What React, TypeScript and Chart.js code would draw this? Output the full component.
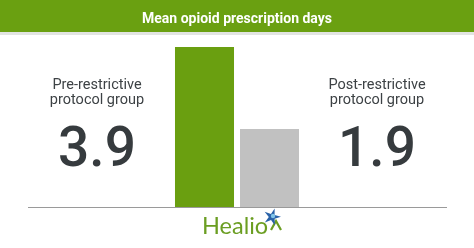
import React, { useEffect, useRef } from "react";
import { Chart, registerables } from "chart.js";

Chart.register(...registerables);

const title = "Mean opioid prescription days";
const categories = ["Pre-restrictive protocol group", "Post-restrictive protocol group"];
const labelLines = [["Pre-restrictive", "protocol group"], ["Post-restrictive", "protocol group"]];
const values = [3.9, 1.9];
const valueLabels = ["3.9", "1.9"];
const barColors = ["#6a9f10", "#c1c1c1"];

const W = 474;
const H = 248;

const decorPlugin = {
  id: "decor",
  beforeDraw(chart: any) {
    const ctx = chart.ctx;
    ctx.save();
    ctx.fillStyle = "#ffffff";
    ctx.fillRect(0, 0, W, H);
    ctx.fillStyle = "#e2e4e2";
    ctx.fillRect(0, 32, W, 3);
    ctx.fillStyle = "#6aa011";
    ctx.fillRect(0, 0, W, 32);
    ctx.fillStyle = "#ffffff";
    ctx.font = "bold 15px Roboto";
    ctx.textBaseline = "alphabetic";
    const tw = ctx.measureText(title).width;
    const sx = 190 / tw;
    ctx.save();
    ctx.translate(237, 23);
    ctx.scale(sx, 1);
    ctx.textAlign = "center";
    ctx.fillText(title, 0, 0);
    ctx.restore();
    ctx.restore();
  },
  afterDraw(chart: any) {
    const ctx = chart.ctx;
    ctx.save();
    const centers = [97, 377];
    ctx.textAlign = "center";
    ctx.textBaseline = "alphabetic";
    for (let i = 0; i < categories.length; i++) {
      ctx.fillStyle = "#3d4245";
      ctx.font = "14.5px Roboto";
      ctx.fillText(labelLines[i][0], centers[i], 88.5);
      ctx.fillText(labelLines[i][1], centers[i], 104);
      ctx.fillStyle = "#363b3e";
      ctx.font = "500 55px Roboto";
      ctx.fillText(valueLabels[i], centers[i], 166);
    }
    // Healio logo
    ctx.textAlign = "left";
    ctx.fillStyle = "#6b9e22";
    ctx.font = "23.5px Lato";
    ctx.fillText("Healio", 202, 233.5);
    ctx.strokeStyle = "#6b9e22";
    ctx.lineWidth = 2.2;
    ctx.beginPath();
    ctx.moveTo(271, 230);
    ctx.lineTo(276, 221);
    ctx.lineTo(281, 230);
    ctx.stroke();
    const cx = 272, cy = 217;
    const pts = 5;
    ctx.fillStyle = "#2a62a8";
    ctx.beginPath();
    for (let k = 0; k < pts * 2; k++) {
      const r = k % 2 === 0 ? 9 : 3.2;
      const a = -Math.PI / 2 + (k * Math.PI) / pts + 0.3;
      const x = cx + r * Math.cos(a);
      const y = cy + r * Math.sin(a);
      if (k === 0) ctx.moveTo(x, y);
      else ctx.lineTo(x, y);
    }
    ctx.closePath();
    ctx.fill();
    ctx.fillStyle = "#7fc3e8";
    ctx.beginPath();
    ctx.arc(cx + 1, cy - 1, 2.2, 0, Math.PI * 2);
    ctx.fill();
    ctx.restore();
  },
};

export default function App() {
  const ref = useRef<HTMLCanvasElement>(null);
  useEffect(() => {
    document.body.style.margin = "0";
    const chart = new Chart(ref.current as HTMLCanvasElement, {
      type: "bar",
      data: {
        labels: [""],
        datasets: categories.map((c, i) => ({
          label: c,
          data: [values[i]],
          backgroundColor: barColors[i],
          borderWidth: 0,
          barPercentage: 0.908,
          categoryPercentage: 0.311,
        })),
      },
      options: {
        responsive: false,
        animation: false,
        devicePixelRatio: 1,
        layout: { padding: { top: 47, bottom: 41, left: 28, right: 28 } },
        plugins: { legend: { display: false }, tooltip: { enabled: false }, title: { display: false } },
        scales: {
          x: {
            grid: { display: false, drawTicks: false },
            ticks: { display: false },
            border: { display: true, color: "#9a9a9a", width: 1 },
          },
          y: { display: false, min: 0, max: 3.9 },
        },
      },
      plugins: [decorPlugin],
    });
    return () => chart.destroy();
  }, []);
  return (
    <div style={{ position: "absolute", left: 0, top: 0, width: W, height: H }}>
      <canvas ref={ref} width={W} height={H} style={{ width: W, height: H, display: "block" }} />
    </div>
  );
}
